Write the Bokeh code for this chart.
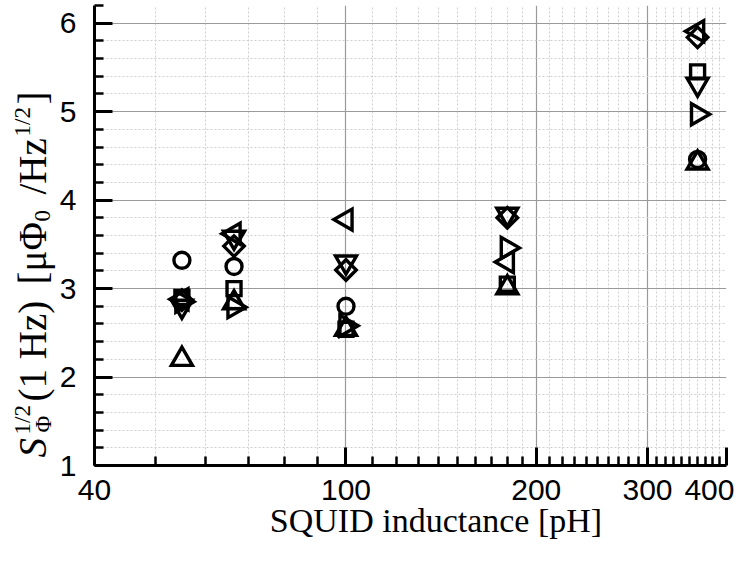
import math
from bokeh.plotting import figure
from bokeh.layouts import row
from bokeh.models import Range1d, FixedTicker, Label
from bokeh.embed import file_html
from bokeh.resources import INLINE

# ---------------- data ----------------
inductance_pH = [55, 66.5, 100, 180, 360]
circle_vals = [3.32, 3.25, 2.80, float("nan"), 4.46]
square_vals = [2.90, 3.00, 2.54, 3.05, 5.45]
tri_up_vals = [2.20, 2.84, 2.54, 3.01, 4.42]
tri_down_vals = [2.80, 3.58, 3.30, 3.84, 5.31]
tri_left_vals = [2.88, 3.62, 3.78, 3.30, 5.91]
tri_right_vals = [2.85, 2.79, 2.58, 3.46, 4.97]
diamond_vals = [2.87, 3.48, 3.21, 3.80, 5.84]

x_tick_values = [40, 100, 200, 300, 400]
x_tick_labels = ["40", "100", "200", "300", "400"]
x_grid_major = [100, 200, 300]
x_minor_values = [50, 60, 70, 80, 90,
                  110, 120, 130, 140, 150, 160, 170, 180, 190,
                  210, 220, 230, 240, 250, 260, 270, 280, 290,
                  310, 320, 330, 340, 350, 360, 370, 380, 390]
y_tick_values = [1, 2, 3, 4, 5, 6]
y_minor_values = [1.2, 1.4, 1.6, 1.8, 2.2, 2.4, 2.6, 2.8, 3.2, 3.4, 3.6, 3.8,
                  4.2, 4.4, 4.6, 4.8, 5.2, 5.4, 5.6, 5.8, 6.2]

x_title = "SQUID inductance [pH]"
NBSP = "\u00a0"

# ---------------- layout sizes ----------------
TOTAL_W, TOTAL_H = 734, 550
LEFT_W = 56                      # strip holding the y-axis title
MAIN_W = TOTAL_W - LEFT_W
BORDER_TOP, BORDER_BOTTOM = 5, 85

# ---------------- left strip: y-axis title ----------------
left = figure(width=LEFT_W, height=TOTAL_H,
              x_range=Range1d(0, LEFT_W),
              y_range=Range1d(BORDER_BOTTOM, TOTAL_H - BORDER_TOP),
              output_backend="svg", toolbar_location=None,
              min_border_left=0, min_border_right=0,
              min_border_top=BORDER_TOP, min_border_bottom=BORDER_BOTTOM,
              x_axis_location=None, y_axis_location=None)
left.grid.visible = False
left.outline_line_color = None
left.background_fill_color = "white"
left.border_fill_color = "white"


def ytitle_piece(text, px_center, py_start, size, style_="normal"):
    # px_center: picture x of the glyph middle; py_start: picture y where the piece begins
    left.add_layout(Label(x=px_center, y=TOTAL_H - py_start, text=text,
                          text_align="left", text_baseline="middle",
                          angle=math.pi / 2, angle_units="rad",
                          text_font="Liberation Serif", text_font_size=size,
                          text_font_style=style_, text_color="black"))


MAIN = "39px"
SMALL = "23px"
ytitle_piece("S", 32, 457, MAIN, style_="italic")
ytitle_piece("1/2", 22, 434, SMALL)
ytitle_piece("\u03a6", 43, 432, SMALL)
ytitle_piece("(1 Hz)", 32, 401, MAIN)
ytitle_piece("[\u03bc\u03a6", 32, 284, MAIN)
ytitle_piece("0", 42, 221, SMALL)
ytitle_piece("/Hz", 32, 194, MAIN)
ytitle_piece("1/2", 22, 136, SMALL)
ytitle_piece("]", 32, 104, MAIN)

# ---------------- main plot ----------------
p = figure(width=MAIN_W, height=TOTAL_H, x_axis_type="log",
           x_range=Range1d(40, 400), y_range=Range1d(1, 6.2),
           output_backend="svg", toolbar_location=None,
           min_border_left=93 - LEFT_W, min_border_right=8,
           min_border_top=BORDER_TOP, min_border_bottom=BORDER_BOTTOM)
p.outline_line_color = None
p.background_fill_color = "white"
p.border_fill_color = "white"

xa = p.xaxis[0]
ya = p.yaxis[0]
xa.ticker = FixedTicker(ticks=x_tick_values, minor_ticks=x_minor_values)
ya.ticker = FixedTicker(ticks=y_tick_values, minor_ticks=y_minor_values)
xa.major_label_overrides = dict(zip(x_tick_values, x_tick_labels))

for ax in (xa, ya):
    ax.axis_line_color = "black"
    ax.axis_line_width = 3
    ax.major_tick_in = 18
    ax.major_tick_out = 0
    ax.minor_tick_in = 9
    ax.minor_tick_out = 0
    ax.major_tick_line_width = 3
    ax.minor_tick_line_width = 2.5
    ax.major_tick_line_color = "black"
    ax.minor_tick_line_color = "black"
    ax.major_label_text_font = "Liberation Sans"
    ax.major_label_text_font_size = "30px"
    ax.major_label_text_color = "black"
xa.major_label_standoff = 14
ya.major_label_standoff = 18

# x-axis title, shifted right with leading no-break spaces as in the reference
xa.axis_label = NBSP * 6 + x_title
xa.axis_label_text_font = "Liberation Serif"
xa.axis_label_text_font_size = "34px"
xa.axis_label_text_font_style = "normal"
xa.axis_label_text_color = "black"
xa.axis_label_standoff = -1

xg = p.xgrid[0]
yg = p.ygrid[0]
xg.ticker = FixedTicker(ticks=x_grid_major, minor_ticks=x_minor_values)
yg.ticker = FixedTicker(ticks=y_tick_values, minor_ticks=y_minor_values)
for g in (xg, yg):
    g.grid_line_color = "#9a9a9a"
    g.grid_line_width = 1.2
    g.minor_grid_line_color = "#cfcfcf"
    g.minor_grid_line_width = 1
    g.minor_grid_line_dash = "2 2"

# ---------------- markers ----------------
style = dict(fill_color=None, line_color="black", line_width=3.4, line_join="miter")
p.scatter(inductance_pH, circle_vals, marker="circle", size=16, **style)
p.scatter(inductance_pH, square_vals, marker="square", size=14, **style)
p.scatter(inductance_pH, tri_up_vals, marker="triangle", size=21, **style)
p.scatter(inductance_pH, tri_down_vals, marker="inverted_triangle", size=21, **style)
p.scatter(inductance_pH, tri_left_vals, marker="triangle", size=21,
          angle=math.pi / 2, **style)
p.scatter(inductance_pH, tri_right_vals, marker="triangle", size=21,
          angle=-math.pi / 2, **style)
p.scatter(inductance_pH, diamond_vals, marker="square", size=14.5,
          angle=math.pi / 4, **style)

layout = row(left, p)
open("out.html", "w").write(file_html(layout, INLINE))
